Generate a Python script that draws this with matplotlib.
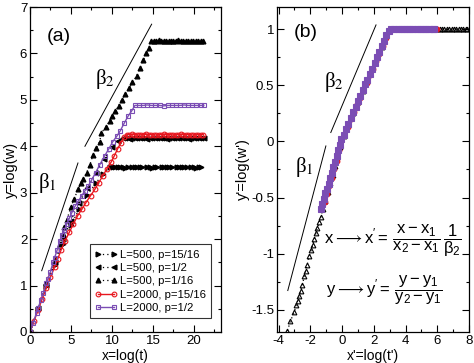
import matplotlib
matplotlib.use('Agg')
import matplotlib.pyplot as plt
from matplotlib.ticker import MultipleLocator, FormatStrFormatter
from matplotlib.lines import Line2D

plt.rcParams['font.family'] = ['Liberation Sans', 'DejaVu Sans']
plt.rcParams['axes.unicode_minus'] = False
plt.rcParams['mathtext.fontset'] = 'custom'
plt.rcParams['mathtext.rm'] = 'Liberation Sans'
plt.rcParams['mathtext.it'] = 'Liberation Sans'

purple = '#7b4db4'
red = '#e8161e'

# ---------- panel (a) ----------
# L=2000, p=1/2
a_x_2000_half = [0, 0.4, 0.8, 1.0, 1.3, 1.6, 2.0, 2.2, 2.5, 2.8, 3.0, 3.3, 3.6, 3.9, 4.2, 4.5, 4.8,
                 5.1, 5.5, 5.9, 6.3, 6.7, 7.1, 7.5, 8.0, 8.5, 9.1, 9.6, 10.1, 10.6, 11.0, 11.5, 12.0,
                 12.4, 12.8, 13.3, 13.8, 14.3, 14.8, 15.3, 15.8, 16.3, 16.8, 17.3, 17.8, 18.3, 18.8,
                 19.3, 19.8, 20.3, 20.8, 21.2]
a_y_2000_half = [0, 0.2, 0.42, 0.52, 0.68, 0.83, 1.05, 1.15, 1.3, 1.5, 1.6, 1.76, 1.95, 2.08, 2.2,
                 2.33, 2.45, 2.57, 2.71, 2.82, 2.93, 3.04, 3.14, 3.27, 3.43, 3.6, 3.79, 3.94, 4.1,
                 4.22, 4.33, 4.5, 4.66, 4.76, 4.88, 4.88, 4.88, 4.89, 4.88, 4.88, 4.88, 4.87, 4.88,
                 4.88, 4.88, 4.88, 4.89, 4.88, 4.88, 4.88, 4.88, 4.88]
# L=2000, p=15/16
a_x_2000_1516 = [0, 0.5, 1.0, 1.5, 2.0, 2.5, 3.0, 3.4, 3.8, 4.3, 4.8, 5.3, 5.8, 6.3, 6.8, 7.4, 7.9,
                 8.4, 8.9, 9.4, 9.9, 10.3, 10.7, 11.1, 11.5, 11.8, 12.1, 12.4, 12.7, 13.0, 13.3,
                 13.6, 13.9, 14.2, 14.5, 14.8, 15.1, 15.4, 15.7, 16.0, 16.3, 16.6, 16.9, 17.2, 17.5,
                 17.8, 18.1, 18.4, 18.7, 19.0, 19.3, 19.6, 19.9, 20.2, 20.5, 20.8, 21.1]
a_y_2000_1516 = [0, 0.24, 0.48, 0.72, 0.95, 1.18, 1.4, 1.58, 1.77, 1.97, 2.15, 2.33, 2.5, 2.64,
                 2.78, 2.94, 3.07, 3.22, 3.37, 3.52, 3.66, 3.8, 3.95, 4.08, 4.19, 4.25, 4.25, 4.26,
                 4.25, 4.25, 4.24, 4.25, 4.25, 4.26, 4.25, 4.25, 4.25, 4.24, 4.25, 4.25, 4.26, 4.25,
                 4.25, 4.25, 4.24, 4.25, 4.25, 4.26, 4.25, 4.25, 4.25, 4.25, 4.24, 4.25, 4.25, 4.25,
                 4.25]
# L=500, p=15/16
a_x_500_1516 = [0, 1.0, 2.0, 3.0, 4.0, 5.0, 6.0, 7.0, 8.0, 8.9, 9.8, 10.1, 10.4, 10.7, 11.0, 11.3,
                11.6, 11.9, 12.5, 12.8, 13.1, 13.4, 13.7, 14.3, 14.6, 14.9, 15.2, 15.5, 16.1, 16.4,
                16.7, 17.0, 17.3, 17.9, 18.2, 18.5, 18.8, 19.1, 19.7, 20.0, 20.3, 20.6, 20.9]
a_y_500_1516 = [0, 0.5, 1.0, 1.45, 1.9, 2.3, 2.65, 2.95, 3.2, 3.4, 3.55, 3.55, 3.56, 3.55, 3.55,
                3.55, 3.54, 3.55, 3.55, 3.55, 3.56, 3.55, 3.55, 3.55, 3.55, 3.54, 3.55, 3.55, 3.55,
                3.55, 3.56, 3.55, 3.55, 3.55, 3.55, 3.56, 3.55, 3.55, 3.55, 3.55, 3.54, 3.55, 3.55]
# L=500, p=1/2
a_x_500_half = [0, 1.0, 2.0, 3.0, 4.0, 5.0, 6.0, 7.0, 8.0, 9.0, 10.0, 10.7, 11.3, 11.6, 11.9,
                12.2, 12.5, 12.8, 13.1, 13.4, 13.7, 14.0, 14.3, 14.6, 14.9, 15.2, 15.5, 15.8, 16.1,
                16.4, 16.7, 17.0, 17.3, 17.6, 17.9, 18.2, 18.5, 18.8, 19.1, 19.4, 19.7, 20.0,
                20.3, 20.6, 20.9, 21.2]
a_y_500_half = [0, 0.52, 1.02, 1.5, 2.0, 2.4, 2.78, 3.1, 3.42, 3.72, 3.98, 4.12, 4.17, 4.17, 4.17,
                4.16, 4.17, 4.17, 4.18, 4.17, 4.17, 4.17, 4.16, 4.17, 4.17, 4.17, 4.18, 4.17, 4.17,
                4.17, 4.16, 4.17, 4.17, 4.17, 4.17, 4.18, 4.17, 4.17, 4.17, 4.16, 4.17, 4.17,
                4.17, 4.17, 4.17, 4.17]
# L=500, p=1/16
a_x_500_116 = [0, 1.0, 2.0, 3.0, 3.6, 4.0, 4.2, 4.5, 5.0, 5.4, 5.85, 6.2, 6.5, 6.9, 7.3, 7.7, 8.1,
               8.5, 8.7, 9.3, 9.7, 10.0, 10.4, 10.8, 11.2, 11.6, 12.1, 12.5, 13.0, 13.4, 13.8, 14.2,
               14.5, 14.8, 15.1, 15.4, 15.7, 16.0, 16.3, 16.6, 16.9, 17.2, 17.5, 17.8, 18.1, 18.4,
               18.7, 19.0, 19.3, 19.6, 19.9, 20.2, 20.5, 20.8, 21.1]
a_y_500_116 = [0, 0.52, 1.05, 1.55, 1.9, 2.12, 2.27, 2.42, 2.7, 2.87, 3.07, 3.2, 3.3, 3.43, 3.6,
               3.82, 3.97, 4.1, 4.29, 4.42, 4.55, 4.65, 4.75, 4.87, 5.0, 5.12, 5.25, 5.38, 5.51,
               5.68, 5.85, 6.0, 6.12, 6.27, 6.27, 6.27, 6.28, 6.27, 6.27, 6.27, 6.26, 6.27, 6.27,
               6.27, 6.28, 6.27, 6.27, 6.27, 6.27, 6.26, 6.27, 6.27, 6.27, 6.27, 6.27]

beta1_a_x = [1.43, 5.85]
beta1_a_y = [1.32, 3.64]
beta2_a_x = [6.7, 14.84]
beta2_a_y = [4.0, 6.63]

# ---------- panel (b) ----------
b_x_black = [-3.44, -3.25, -3.0, -2.9, -2.8, -2.69, -2.6, -2.5, -2.38, -2.3, -2.2, -2.06, -1.95,
             -1.85, -1.75, -1.65, -1.55, -1.45, -1.33, -1.2, -1.05, -0.9, -0.75, -0.6, -0.45,
             -0.3, -0.15, 0.1, 0.4, 0.7, 1.0, 1.3, 1.6, 1.9, 2.2, 2.5, 2.8, 3.0, 3.2, 3.4, 3.6,
             3.8, 4.0, 4.2, 4.4, 4.6, 4.8, 5.0, 5.2, 5.4, 5.6, 5.8, 6.0, 6.15, 6.3, 6.45, 6.6,
             6.75, 6.9, 7.05, 7.2, 7.35, 7.5, 7.65, 7.8, 7.9]
b_y_black = [-1.69, -1.6, -1.52, -1.46, -1.42, -1.375, -1.33, -1.28, -1.2, -1.16, -1.1, -1.02,
             -0.97, -0.92, -0.87, -0.82, -0.77, -0.72, -0.67, -0.6, -0.53, -0.45, -0.37, -0.3,
             -0.22, -0.14, -0.05, 0.05, 0.15, 0.25, 0.35, 0.45, 0.55, 0.65, 0.75, 0.84, 0.94,
             1.0, 1.0, 1.0, 1.0, 1.0, 1.0, 1.0, 1.0, 1.0, 1.0, 1.0, 1.0, 1.0, 1.0, 1.0, 1.0, 1.0,
             1.0, 1.0, 1.0, 1.0, 1.0, 1.0, 1.0, 1.0, 1.0, 1.0, 1.0, 1.0]
b_x_red = [-1.1, -0.95, -0.8, -0.65, -0.5, -0.35, -0.2, -0.05, 0.15, 0.35, 0.55, 0.75, 0.95,
           1.15, 1.35, 1.55, 1.75, 1.95, 2.15, 2.35, 2.55, 2.75, 2.95, 3.15, 3.35, 3.55, 3.75,
           3.95, 4.15, 4.35, 4.55, 4.75, 4.95, 5.15, 5.35, 5.55, 5.75, 5.9, 6.0]
b_y_red = [-0.54, -0.47, -0.4, -0.33, -0.25, -0.17, -0.08, 0.0, 0.07, 0.13, 0.2, 0.26, 0.33,
           0.39, 0.46, 0.52, 0.59, 0.65, 0.72, 0.78, 0.85, 0.92, 0.99, 1.0, 1.0, 1.0, 1.0, 1.0,
           1.0, 1.0, 1.0, 1.0, 1.0, 1.0, 1.0, 1.0, 1.0, 1.0, 1.0]
b_x_purple = [-1.33, -1.25, -1.15, -1.05, -0.95, -0.85, -0.75, -0.65, -0.55, -0.45, -0.35,
              -0.25, -0.15, -0.05, 0.1, 0.25, 0.4, 0.55, 0.7, 0.85, 1.0, 1.15, 1.3, 1.45, 1.6,
              1.75, 1.9, 2.05, 2.2, 2.35, 2.5, 2.65, 2.8, 2.95, 3.1, 3.3, 3.5, 3.7, 3.9, 4.1,
              4.3, 4.5, 4.7, 4.9, 5.1, 5.3, 5.5, 5.7, 5.8]
b_y_purple = [-0.6, -0.56, -0.51, -0.46, -0.42, -0.38, -0.33, -0.28, -0.23, -0.18, -0.13,
              -0.08, -0.03, 0.02, 0.06, 0.11, 0.16, 0.21, 0.26, 0.31, 0.36, 0.41, 0.46, 0.51,
              0.55, 0.6, 0.65, 0.7, 0.75, 0.8, 0.85, 0.9, 0.95, 0.99, 1.0, 1.0, 1.0, 1.0, 1.0,
              1.0, 1.0, 1.0, 1.0, 1.0, 1.0, 1.0, 1.0, 1.0, 1.0]

beta1_b_x = [-3.42, -1.02]
beta1_b_y = [-1.33, -0.04]
beta2_b_x = [-0.71, 2.14]
beta2_b_y = [0.08, 1.04]

fig = plt.figure(figsize=(4.74, 3.63), dpi=100)
ax1 = fig.add_axes([30 / 474, 31 / 363, 191 / 474, 325 / 363])
ax2 = fig.add_axes([277 / 474, 31 / 363, 192 / 474, 325 / 363])

ms = 3.4
dots = (0, (1, 2.5))
ax1.plot(a_x_500_1516, a_y_500_1516, color='black', ls=dots, lw=0.9,
         marker='>', ms=ms, mfc='black', label='L=500, p=15/16')
ax1.plot(a_x_500_half, a_y_500_half, color='black', ls=dots, lw=0.9,
         marker='<', ms=ms, mfc='black', label='L=500, p=1/2')
ax1.plot(a_x_500_116, a_y_500_116, color='black', ls=dots, lw=0.9,
         marker='^', ms=ms, mfc='black', label='L=500, p=1/16')
ax1.plot(a_x_2000_1516, a_y_2000_1516, color=red, lw=1.0, marker='o', ms=ms,
         mfc='none', mew=0.8, label='L=2000, p=15/16')
ax1.plot(a_x_2000_half, a_y_2000_half, color=purple, lw=1.0, marker='s', ms=ms,
         mfc='none', mew=0.8, label='L=2000, p=1/2')
ax1.plot(beta1_a_x, beta1_a_y, color='black', lw=0.7)
ax1.plot(beta2_a_x, beta2_a_y, color='black', lw=0.7)

ax1.set_xlim(0, 23.3)
ax1.set_ylim(0, 7)
ax1.xaxis.set_major_locator(MultipleLocator(5))
ax1.xaxis.set_minor_locator(MultipleLocator(2.5))
ax1.yaxis.set_major_locator(MultipleLocator(1))
ax1.yaxis.set_minor_locator(MultipleLocator(0.5))
ax1.set_xlabel('x=log(t)', fontsize=10)
ax1.set_ylabel('y=log(w)', fontsize=10.5, labelpad=1)
ax1.text(2.0, 6.37, '(a)', fontsize=14, va='center')
ax1.text(2.1, 3.2, r'β$_1$', family='Liberation Serif', math_fontfamily='stix', fontsize=15,
         va='center', ha='center')
ax1.text(9.1, 5.45, r'β$_2$', family='Liberation Serif', math_fontfamily='stix', fontsize=15,
         va='center', ha='center')

handles = [
    Line2D([], [], color='black', ls=dots, lw=0.9, marker='>', ms=ms),
    Line2D([], [], color='black', ls=dots, lw=0.9, marker='<', ms=ms),
    Line2D([], [], color='black', ls=dots, lw=0.9, marker='^', ms=ms),
    Line2D([], [], color=red, lw=1.0, marker='o', ms=ms, mfc='none', mew=0.8),
    Line2D([], [], color=purple, lw=1.0, marker='s', ms=ms, mfc='none', mew=0.8),
]
labels = ['L=500, p=15/16', 'L=500, p=1/2', 'L=500, p=1/16', 'L=2000, p=15/16', 'L=2000, p=1/2']
leg = ax1.legend(handles, labels, loc='lower right', bbox_to_anchor=(0.96, 0.035),
                 fontsize=8.2, numpoints=2, handlelength=2.0, handletextpad=0.2,
                 labelspacing=0.3, borderpad=0.45, fancybox=False, frameon=True,
                 borderaxespad=0.2)
leg.get_frame().set_edgecolor('black')
leg.get_frame().set_linewidth(0.8)

ax2.plot(b_x_black, b_y_black, color='black', ls=dots, lw=0.9,
         marker='^', ms=ms, mfc='none', mew=0.8)
ax2.plot(b_x_red, b_y_red, color=red, lw=1.0, marker='o', ms=ms, mfc=red, mew=0.8)
ax2.plot(b_x_purple, b_y_purple, color=purple, lw=1.5, marker='s', ms=4.2, mfc=purple, mew=0.8)
ax2.plot(beta1_b_x, beta1_b_y, color='black', lw=0.7)
ax2.plot(beta2_b_x, beta2_b_y, color='black', lw=0.7)

ax2.set_xlim(-4.1, 8)
ax2.set_ylim(-1.7, 1.2)
ax2.xaxis.set_major_locator(MultipleLocator(2))
ax2.xaxis.set_minor_locator(MultipleLocator(1))
ax2.yaxis.set_major_locator(MultipleLocator(0.5))
ax2.yaxis.set_minor_locator(MultipleLocator(0.25))
ax2.yaxis.set_major_formatter(FormatStrFormatter('%g'))
ax2.set_xlabel("x'=log(t')", fontsize=10)
ax2.set_ylabel("y'=log(w')", fontsize=10.5, labelpad=1)
ax2.text(-2.28, 0.975, '(b)', fontsize=14, va='center', ha='center')
ax2.text(-2.38, -0.23, r'β$_1$', family='Liberation Serif', math_fontfamily='stix', fontsize=15,
         va='center', ha='center')
ax2.text(-0.5, 0.53, r'β$_2$', family='Liberation Serif', math_fontfamily='stix', fontsize=15,
         va='center', ha='center')
ax2.text(-1.15, -0.89, r"$\mathrm{x}\longrightarrow\mathrm{x'}=\,\dfrac{\mathrm{x}-\mathrm{x_1}}{\mathrm{x_2}-\mathrm{x_1}}\,\dfrac{1}{\beta_2}$",
         fontsize=12, va='center', ha='left')
ax2.text(-1.0, -1.33, r"$\mathrm{y}\longrightarrow\mathrm{y'}=\,\dfrac{\mathrm{y}-\mathrm{y_1}}{\mathrm{y_2}-\mathrm{y_1}}$",
         fontsize=12, va='center', ha='left')

for ax in (ax1, ax2):
    ax.tick_params(which='both', direction='in', top=True, right=True, labelsize=9.5, pad=2)
    ax.tick_params(which='major', length=5, width=0.8)
    ax.tick_params(which='minor', length=2.5, width=0.8)
    ax.xaxis.set_label_coords(0.5, -0.051)
    for s in ax.spines.values():
        s.set_linewidth(0.9)

fig.savefig('out.png', dpi=100)
